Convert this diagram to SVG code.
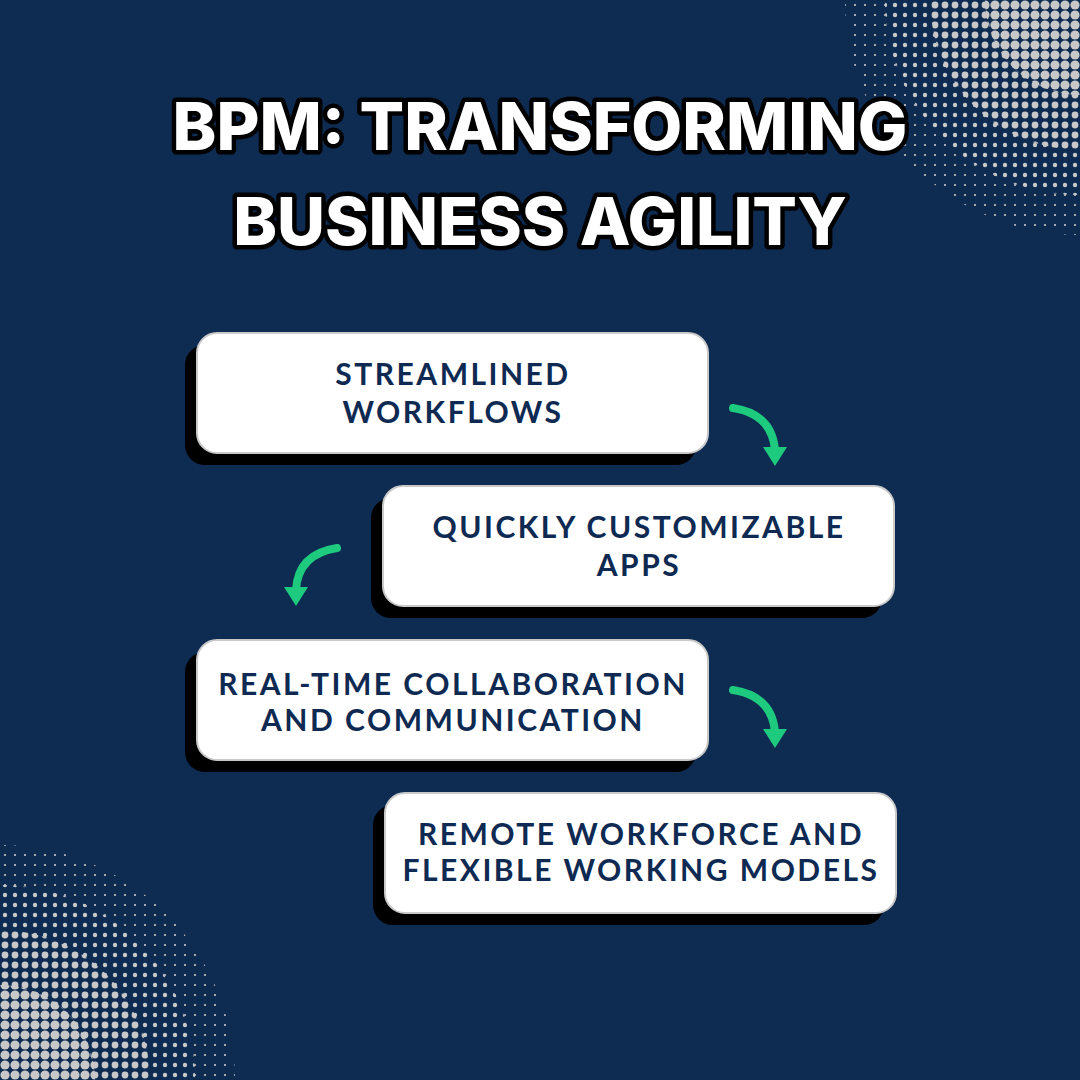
<svg xmlns="http://www.w3.org/2000/svg" width="1080" height="1080" viewBox="0 0 1080 1080">
<defs>
<style>
.box{fill:#fff;stroke:#c9c9c9;stroke-width:2}
.sh{fill:#000}
.t{font-family:Lato,"Liberation Sans",sans-serif;font-weight:700;font-size:30px;fill:#0e2a52;text-anchor:middle;letter-spacing:2.5px}
.title{font-family:Inter,Lato,"Liberation Sans",sans-serif;font-weight:800;font-size:66px;fill:#fff;stroke:#000;stroke-width:9;paint-order:stroke;stroke-linejoin:round;text-anchor:middle}
.arr{fill:none;stroke:#1ecb7e;stroke-width:8;stroke-linecap:round}
</style>
<pattern id="d1" width="10" height="10" patternUnits="userSpaceOnUse"><circle cx="5" cy="5" r="4.6" fill="#c8c8c8"/></pattern>
<pattern id="d2" width="10" height="10" patternUnits="userSpaceOnUse"><circle cx="5" cy="5" r="3.4" fill="#c8c8c8"/></pattern>
<pattern id="d3" width="10" height="10" patternUnits="userSpaceOnUse"><circle cx="5" cy="5" r="2.2" fill="#c8c8c8"/></pattern>
<pattern id="d4" width="10" height="10" patternUnits="userSpaceOnUse"><circle cx="5" cy="5" r="1.1" fill="#c8c8c8"/></pattern>
<marker id="ah" viewBox="0 0 10 10" refX="5" refY="9" markerWidth="3.2" markerHeight="3.2" orient="auto-start-reverse" markerUnits="strokeWidth"><path d="M0,2 L10,2 L5,10 Z" fill="#1ecb7e" transform="rotate(-90 5 5)"/></marker>
</defs>
<rect width="1080" height="1080" fill="#0e2b52"/>
<g id="halftone-tr">
<circle cx="1080" cy="0" r="235" fill="url(#d4)"/>
<circle cx="1080" cy="0" r="195" fill="url(#d3)"/>
<circle cx="1080" cy="0" r="150" fill="url(#d2)"/>
<circle cx="1080" cy="0" r="95" fill="url(#d1)"/>
</g>
<g id="halftone-bl">
<circle cx="0" cy="1080" r="235" fill="url(#d4)"/>
<circle cx="0" cy="1080" r="195" fill="url(#d3)"/>
<circle cx="0" cy="1080" r="150" fill="url(#d2)"/>
<circle cx="0" cy="1080" r="95" fill="url(#d1)"/>
</g>
<g id="title">
<text class="title" x="540" y="150">BPM: TRANSFORMING</text>
<text class="title" x="540" y="245">BUSINESS AGILITY</text>
</g>
<g id="node1">
<rect class="sh" x="185" y="345" width="511" height="120" rx="20"/>
<rect class="box" x="197" y="333" width="511" height="120" rx="20"/>
<text class="t" x="453" y="385">STREAMLINED</text>
<text class="t" x="453" y="423">WORKFLOWS</text>
</g>
<g id="node2">
<rect class="sh" x="371" y="498" width="511" height="120" rx="20"/>
<rect class="box" x="383" y="486" width="511" height="120" rx="20"/>
<text class="t" x="639" y="538">QUICKLY CUSTOMIZABLE</text>
<text class="t" x="639" y="576">APPS</text>
</g>
<g id="node3">
<rect class="sh" x="185" y="652" width="511" height="120" rx="20"/>
<rect class="box" x="197" y="640" width="511" height="120" rx="20"/>
<text class="t" x="453" y="695">REAL-TIME COLLABORATION</text>
<text class="t" x="453" y="731">AND COMMUNICATION</text>
</g>
<g id="node4">
<rect class="sh" x="373" y="805" width="511" height="120" rx="20"/>
<rect class="box" x="385" y="793" width="511" height="120" rx="20"/>
<text class="t" x="641" y="845">REMOTE WORKFORCE AND</text>
<text class="t" x="641" y="881">FLEXIBLE WORKING MODELS</text>
</g>
<g id="connectors">
<path class="arr" d="M733,408 Q772,414 775,450"/>
<path d="M763,447 L787,447 L775,466 Z" fill="#1ecb7e"/>
<path class="arr" d="M337,548 Q298,554 296,590"/>
<path d="M284,587 L308,587 L296,606 Z" fill="#1ecb7e"/>
<path class="arr" d="M733,690 Q772,696 775,732"/>
<path d="M763,729 L787,729 L775,748 Z" fill="#1ecb7e"/>
</g>
</svg>
